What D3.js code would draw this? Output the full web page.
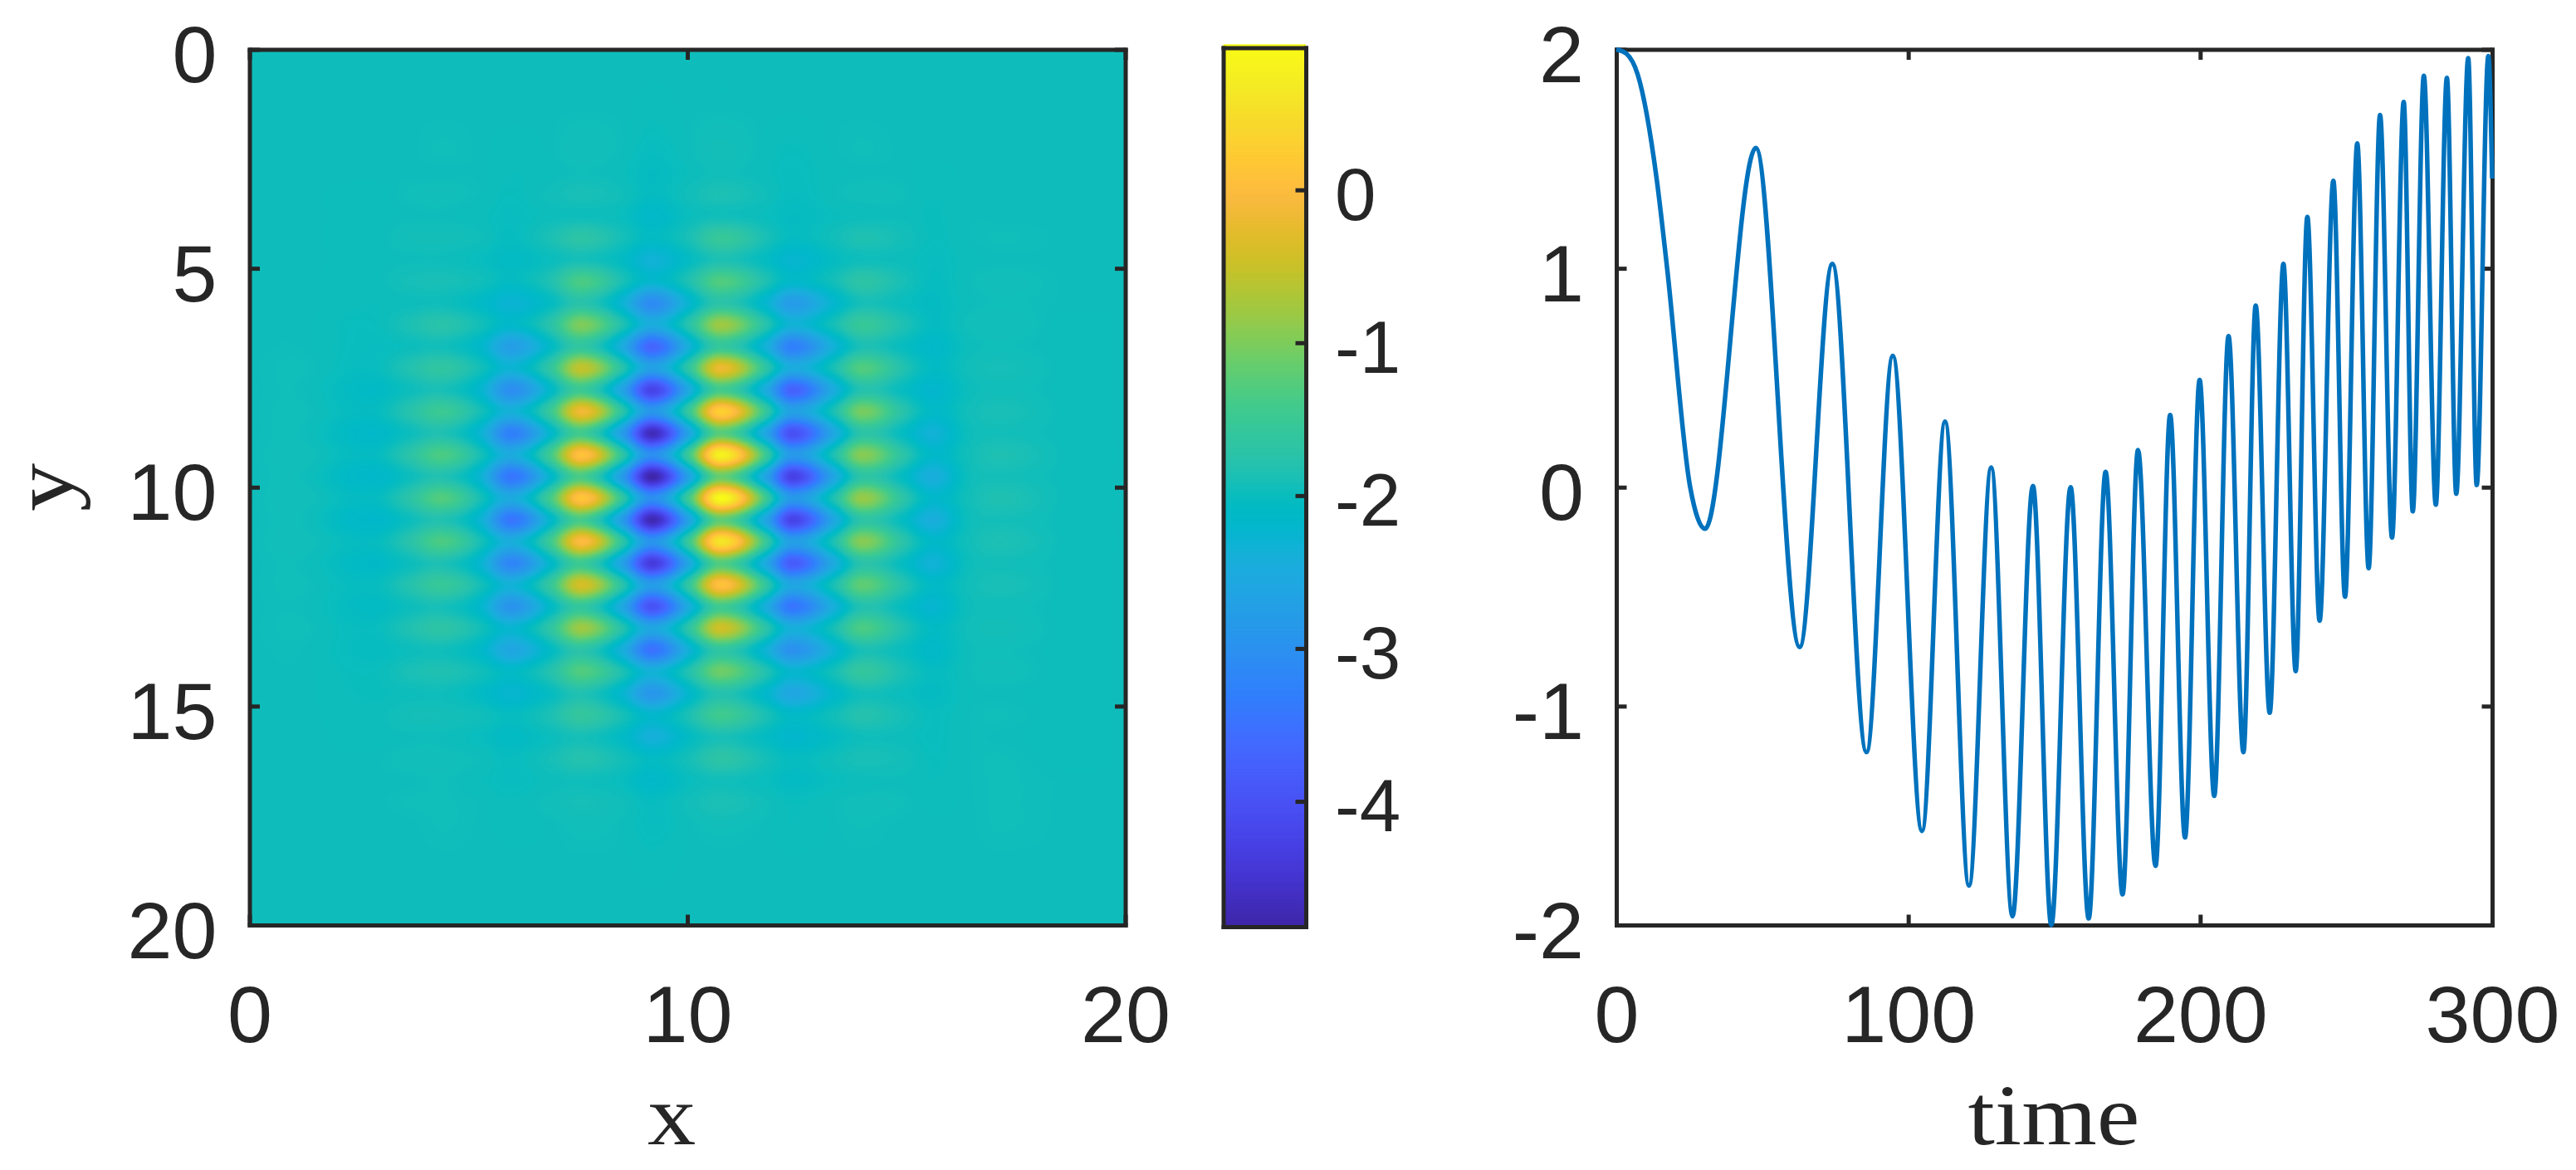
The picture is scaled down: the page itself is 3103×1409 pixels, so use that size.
<!DOCTYPE html>
<html>
<head>
<meta charset="utf-8">
<script src="https://cdn.jsdelivr.net/npm/d3@7"></script>
<style>
  html, body { margin: 0; padding: 0; background: #fff; }
  #wrap { position: relative; width: 3103px; height: 1409px; overflow: hidden; }
  canvas, svg { position: absolute; left: 0; top: 0; }
  text { fill: #262626; }
  .tick-label { font-family: "Liberation Sans", Arial, sans-serif; }
  .axis-label { font-family: "Liberation Serif", serif; }
</style>
</head>
<body>
<div id="wrap"><canvas id="field"></canvas><svg id="chart"></svg></div>
<script>
///////////////////////
// DATA
//
var xTicksField = [0, 10, 20];
var yTicksField = [0, 5, 10, 15, 20];
var cbarTicks = [0, -1, -2, -3, -4];
var cbarRange = [-4.82, 0.93];
var xTicksTime = [0, 100, 200, 300];
var yTicksTime = [-2, -1, 0, 1, 2];

// colormap (parula, 64 steps)
var parula = [
  [0.2422,0.1504,0.6603],[0.2504,0.1650,0.7076],[0.2578,0.1818,0.7511],[0.2647,0.1978,0.7952],
  [0.2706,0.2147,0.8364],[0.2751,0.2342,0.8710],[0.2783,0.2559,0.8991],[0.2803,0.2782,0.9221],
  [0.2813,0.3006,0.9414],[0.2810,0.3228,0.9579],[0.2795,0.3447,0.9717],[0.2760,0.3667,0.9829],
  [0.2699,0.3892,0.9906],[0.2602,0.4123,0.9952],[0.2440,0.4358,0.9988],[0.2206,0.4603,0.9973],
  [0.1963,0.4847,0.9892],[0.1834,0.5074,0.9798],[0.1786,0.5289,0.9682],[0.1764,0.5499,0.9520],
  [0.1687,0.5703,0.9359],[0.1540,0.5902,0.9218],[0.1460,0.6091,0.9079],[0.1380,0.6276,0.8973],
  [0.1248,0.6459,0.8883],[0.1113,0.6635,0.8763],[0.0952,0.6798,0.8598],[0.0689,0.6948,0.8394],
  [0.0297,0.7082,0.8163],[0.0036,0.7203,0.7917],[0.0067,0.7312,0.7660],[0.0433,0.7411,0.7394],
  [0.0964,0.7500,0.7120],[0.1408,0.7584,0.6842],[0.1717,0.7670,0.6554],[0.1938,0.7758,0.6251],
  [0.2161,0.7843,0.5923],[0.2470,0.7918,0.5567],[0.2906,0.7973,0.5188],[0.3406,0.8008,0.4789],
  [0.3909,0.8029,0.4354],[0.4456,0.8024,0.3909],[0.5044,0.7993,0.3480],[0.5616,0.7942,0.3045],
  [0.6174,0.7876,0.2612],[0.6720,0.7793,0.2227],[0.7242,0.7698,0.1910],[0.7738,0.7598,0.1646],
  [0.8203,0.7498,0.1535],[0.8634,0.7406,0.1596],[0.9035,0.7330,0.1774],[0.9393,0.7288,0.2100],
  [0.9728,0.7298,0.2394],[0.9956,0.7434,0.2371],[0.9970,0.7659,0.2199],[0.9952,0.7893,0.2028],
  [0.9892,0.8136,0.1885],[0.9786,0.8386,0.1766],[0.9676,0.8639,0.1643],[0.9610,0.8890,0.1537],
  [0.9597,0.9135,0.1423],[0.9628,0.9373,0.1265],[0.9691,0.9606,0.1064],[0.9769,0.9839,0.0805]
];

// field values, one row per fieldY, one column per fieldX
var fieldX = [0, 1.3, 2.85, 3.63, 4.42, 5.3, 6, 6.88, 7.6, 8.53, 9.2, 10.05, 10.77, 11.8, 12.4, 13.35, 13.99, 14.9, 15.6, 16.37, 17.15, 18.7, 20];
var fieldY = [0, 1.3, 2.33, 2.83, 3.32, 3.82, 4.31, 4.81, 5.3, 5.8, 6.29, 6.79, 7.28, 7.78, 8.27, 8.77,
  9.26, 9.76, 10.25, 10.75, 11.24, 11.74, 12.23, 12.73, 13.22, 13.72, 14.21, 14.71, 15.2, 15.7, 16.19, 16.69,
  17.18, 17.68, 18.6, 20];
var fieldZ = [
  [-1.97,-1.97,-1.97,-1.97,-1.97,-1.97,-1.97,-1.97,-1.97,-1.97,-1.97,-1.97,-1.97,-1.97,-1.97,-1.97,-1.97,-1.97,-1.97,-1.97,-1.97,-1.97,-1.97],
  [-1.97,-1.97,-1.97,-1.97,-1.97,-1.97,-1.97,-1.97,-1.97,-1.97,-1.98,-1.97,-1.97,-1.97,-1.97,-1.97,-1.97,-1.97,-1.97,-1.97,-1.97,-1.97,-1.97],
  [-1.97,-1.97,-1.97,-1.97,-1.96,-1.97,-1.98,-1.97,-1.94,-1.97,-2.02,-1.97,-1.93,-1.98,-2.0,-1.97,-1.96,-1.97,-1.97,-1.97,-1.97,-1.97,-1.97],
  [-1.97,-1.97,-1.97,-1.97,-1.97,-1.97,-1.99,-1.98,-1.96,-1.99,-2.05,-1.99,-1.95,-1.99,-2.01,-1.98,-1.97,-1.97,-1.98,-1.97,-1.97,-1.97,-1.97],
  [-1.97,-1.97,-1.98,-1.96,-1.95,-1.97,-2.0,-1.95,-1.9,-1.96,-2.05,-1.95,-1.87,-1.96,-2.02,-1.97,-1.95,-1.96,-1.99,-1.97,-1.97,-1.97,-1.97],
  [-1.97,-1.97,-1.98,-1.97,-1.97,-1.99,-2.02,-1.98,-1.97,-2.01,-2.15,-2.0,-1.95,-2.0,-2.05,-2.0,-1.98,-1.97,-2.0,-1.97,-1.97,-1.97,-1.97],
  [-1.97,-1.97,-1.98,-1.94,-1.93,-1.96,-2.03,-1.88,-1.7,-1.93,-2.08,-1.89,-1.55,-1.9,-2.05,-1.95,-1.85,-1.93,-2.0,-1.97,-1.96,-1.97,-1.97],
  [-1.97,-1.97,-1.98,-1.97,-1.97,-2.02,-2.08,-2.0,-1.92,-2.08,-2.35,-2.06,-1.86,-2.06,-2.25,-2.05,-1.97,-1.98,-2.02,-1.98,-1.97,-1.97,-1.97],
  [-1.97,-1.97,-1.98,-1.92,-1.9,-1.96,-2.06,-1.84,-1.35,-1.9,-2.22,-1.84,-1.3,-1.86,-2.16,-1.94,-1.7,-1.9,-2.03,-1.97,-1.95,-1.97,-1.97],
  [-1.97,-1.97,-1.99,-1.98,-1.97,-2.11,-2.3,-2.06,-1.75,-2.31,-3.1,-2.23,-1.72,-2.24,-2.8,-2.22,-1.92,-2.0,-2.06,-1.98,-1.96,-1.97,-1.97],
  [-1.97,-1.97,-2.0,-1.88,-1.75,-1.95,-2.16,-1.74,-1.0,-1.85,-2.48,-1.75,-0.8,-1.78,-2.35,-1.92,-1.55,-1.85,-2.05,-1.96,-1.94,-1.98,-1.97],
  [-1.97,-1.97,-2.02,-1.99,-1.95,-2.19,-2.75,-2.11,-1.63,-2.5,-3.7,-2.37,-1.58,-2.38,-3.3,-2.35,-1.88,-2.02,-2.15,-1.99,-1.96,-1.98,-1.97],
  [-1.97,-1.96,-2.02,-1.83,-1.65,-1.95,-2.3,-1.63,-0.55,-1.79,-2.7,-1.64,-0.2,-1.69,-2.5,-1.9,-1.3,-1.8,-2.08,-1.96,-1.92,-1.98,-1.97],
  [-1.97,-1.97,-2.1,-1.99,-1.9,-2.25,-3.05,-2.15,-1.5,-2.67,-4.25,-2.5,-1.42,-2.51,-3.75,-2.47,-1.8,-2.03,-2.22,-2.0,-1.95,-1.98,-1.97],
  [-1.97,-1.96,-2.04,-1.79,-1.5,-1.94,-2.38,-1.53,-0.15,-1.74,-2.9,-1.54,0.3,-1.6,-2.7,-1.88,-1.05,-1.74,-2.12,-1.96,-1.9,-1.98,-1.97],
  [-1.97,-1.97,-2.15,-2.0,-1.85,-2.31,-3.3,-2.19,-1.45,-2.81,-4.7,-2.61,-1.25,-2.62,-4.05,-2.57,-1.72,-2.05,-2.35,-2.0,-1.94,-1.98,-1.97],
  [-1.97,-1.95,-2.05,-1.75,-1.35,-1.93,-2.5,-1.43,0.1,-1.69,-3.05,-1.45,0.8,-1.52,-2.85,-1.86,-0.95,-1.69,-2.16,-1.96,-1.86,-1.98,-1.97],
  [-1.97,-1.97,-2.18,-2.0,-1.83,-2.33,-3.45,-2.2,-1.38,-2.85,-4.82,-2.64,-1.15,-2.65,-4.3,-2.6,-1.7,-2.05,-2.45,-2.0,-1.93,-1.98,-1.97],
  [-1.97,-1.95,-2.05,-1.74,-1.3,-1.93,-2.52,-1.4,0.15,-1.67,-3.05,-1.42,0.93,-1.5,-2.85,-1.85,-0.85,-1.68,-2.17,-1.96,-1.85,-1.98,-1.97],
  [-1.97,-1.97,-2.18,-2.0,-1.83,-2.32,-3.45,-2.19,-1.4,-2.82,-4.75,-2.62,-1.2,-2.63,-4.25,-2.58,-1.7,-2.05,-2.45,-2.0,-1.93,-1.98,-1.97],
  [-1.97,-1.95,-2.04,-1.77,-1.35,-1.93,-2.45,-1.47,0.0,-1.71,-2.95,-1.49,0.6,-1.56,-2.75,-1.86,-0.95,-1.71,-2.15,-1.96,-1.87,-1.98,-1.97],
  [-1.97,-1.97,-2.12,-2.0,-1.87,-2.28,-3.2,-2.17,-1.5,-2.72,-4.4,-2.54,-1.3,-2.55,-3.85,-2.51,-1.75,-2.04,-2.35,-2.0,-1.94,-1.98,-1.97],
  [-1.97,-1.96,-2.03,-1.81,-1.55,-1.94,-2.35,-1.57,-0.4,-1.76,-2.8,-1.59,0.1,-1.64,-2.6,-1.89,-1.2,-1.77,-2.11,-1.96,-1.9,-1.98,-1.97],
  [-1.97,-1.97,-2.08,-1.99,-1.92,-2.22,-2.95,-2.13,-1.6,-2.59,-4.0,-2.44,-1.45,-2.45,-3.45,-2.41,-1.82,-2.03,-2.25,-1.99,-1.95,-1.98,-1.97],
  [-1.97,-1.96,-2.02,-1.85,-1.7,-1.95,-2.25,-1.67,-0.8,-1.81,-2.6,-1.68,-0.45,-1.73,-2.42,-1.91,-1.35,-1.82,-2.08,-1.96,-1.93,-1.98,-1.97],
  [-1.97,-1.97,-2.04,-1.99,-1.96,-2.16,-2.6,-2.09,-1.72,-2.44,-3.5,-2.33,-1.65,-2.33,-3.0,-2.3,-1.9,-2.01,-2.14,-1.98,-1.96,-1.98,-1.97],
  [-1.97,-1.97,-2.0,-1.9,-1.85,-1.96,-2.11,-1.8,-1.3,-1.88,-2.36,-1.81,-1.1,-1.83,-2.24,-1.93,-1.6,-1.88,-2.04,-1.97,-1.95,-1.98,-1.97],
  [-1.97,-1.97,-2.0,-1.98,-1.97,-2.09,-2.25,-2.04,-1.84,-2.25,-2.9,-2.18,-1.8,-2.19,-2.6,-2.17,-1.95,-2.0,-2.06,-1.98,-1.97,-1.98,-1.97],
  [-1.97,-1.97,-1.98,-1.93,-1.93,-1.96,-2.04,-1.87,-1.6,-1.92,-2.2,-1.87,-1.45,-1.89,-2.12,-1.95,-1.8,-1.92,-2.01,-1.97,-1.96,-1.98,-1.97],
  [-1.97,-1.97,-1.98,-1.97,-1.97,-2.02,-2.08,-2.0,-1.92,-2.1,-2.4,-2.07,-1.9,-2.07,-2.2,-2.06,-1.97,-1.98,-2.01,-1.97,-1.97,-1.98,-1.97],
  [-1.97,-1.97,-1.97,-1.95,-1.95,-1.97,-2.02,-1.92,-1.8,-1.94,-2.08,-1.92,-1.7,-1.93,-2.04,-1.96,-1.9,-1.94,-2.0,-1.97,-1.96,-1.98,-1.97],
  [-1.97,-1.97,-1.97,-1.97,-1.96,-1.99,-2.02,-1.98,-1.96,-2.02,-2.15,-2.01,-1.95,-2.01,-2.07,-2.01,-1.98,-1.97,-1.99,-1.97,-1.96,-1.97,-1.97],
  [-1.97,-1.97,-1.97,-1.96,-1.96,-1.97,-1.99,-1.95,-1.92,-1.96,-2.03,-1.95,-1.88,-1.96,-2.0,-1.97,-1.95,-1.96,-1.98,-1.97,-1.96,-1.97,-1.97],
  [-1.97,-1.97,-1.97,-1.97,-1.96,-1.97,-1.98,-1.97,-1.95,-1.97,-2.02,-1.97,-1.95,-1.97,-1.99,-1.97,-1.96,-1.97,-1.97,-1.97,-1.96,-1.97,-1.97],
  [-1.97,-1.97,-1.97,-1.97,-1.97,-1.97,-1.97,-1.97,-1.97,-1.97,-1.98,-1.97,-1.97,-1.97,-1.97,-1.97,-1.97,-1.97,-1.97,-1.97,-1.97,-1.97,-1.97],
  [-1.97,-1.97,-1.97,-1.97,-1.97,-1.97,-1.97,-1.97,-1.97,-1.97,-1.97,-1.97,-1.97,-1.97,-1.97,-1.97,-1.97,-1.97,-1.97,-1.97,-1.97,-1.97,-1.97]
];

// time series: bends and turning points
var timeT = [0, 3.5, 7.3, 13.8, 17.4, 25.3, 30.4, 47.8, 62.8, 74, 85.7, 94.7, 104.7, 112.6, 120.8, 128.4, 135.7,
  142.7, 149, 155.6, 161.8, 167.6, 173.4, 178.7, 184.7, 189.7, 194.8, 199.8, 204.8, 209.7, 214.8, 219, 223.8,
  228.5, 232.7, 236.7, 240.9, 245.6, 249.6, 253.8, 257.7, 261.6, 265.7, 269.7, 272.8, 276.6, 280.7, 284.5,
  287.7, 291.8, 294.7, 298.7, 300];
var timeV = [2, 1.98, 1.886, 1.41, 1, 0, -0.19, 1.55, -0.73, 1.02, -1.21, 0.6, -1.57, 0.3, -1.82, 0.09, -1.96,
  0.006, -2, 0, -1.97, 0.07, -1.86, 0.17, -1.73, 0.33, -1.6, 0.49, -1.41, 0.69, -1.21, 0.83, -1.03,
  1.02, -0.84, 1.235, -0.61, 1.4, -0.5, 1.57, -0.37, 1.7, -0.23, 1.76, -0.11, 1.88, -0.08, 1.87,
  -0.03, 1.96, 0.01, 1.97, 1.41];

///////////////////////
// DEFS
//
var W = 3103, H = 1409,
  ink = '#262626',
  frameTop = 59.5, frameBottom = 1114,
  fieldLeft = 300.5, fieldRight = 1355.5,
  timeLeft = 1947, timeRight = 3002,
  cbarLeft = 1473.5, cbarRight = 1573,
  cbarTop = 57.5, cbarBottom = 1116,
  tickLen = 12.5;

var xField = d3.scaleLinear().domain([0, 20]).range([fieldLeft, fieldRight]);
var yField = d3.scaleLinear().domain([0, 20]).range([frameTop, frameBottom]);
var yCbar = d3.scaleLinear().domain(cbarRange).range([cbarBottom, cbarTop]);
var xTime = d3.scaleLinear().domain([0, 300]).range([timeLeft, timeRight]);
var yTime = d3.scaleLinear().domain([-2, 2]).range([frameBottom, frameTop]);

var colorScale = d3.scaleLinear()
  .domain(parula.map(function (c, i) { return cbarRange[0] + (cbarRange[1] - cbarRange[0]) * i / (parula.length - 1); }))
  .range(parula.map(function (c) { return d3.rgb(c[0] * 255, c[1] * 255, c[2] * 255); }))
  .clamp(true);

var svg = d3.select('#chart').attr('width', W).attr('height', H);

///////////////////////
// FIELD (smooth shading of the grid, pixel by pixel)
//
function segment(xs, x) {
  var i = d3.bisectRight(xs, x) - 1;
  return Math.max(0, Math.min(xs.length - 2, i));
}

function hermite(xs, zs, i, x) {
  var h = xs[i + 1] - xs[i],
    u = (x - xs[i]) / h,
    im = Math.max(0, i - 1),
    ip = Math.min(xs.length - 1, i + 2),
    m0 = (zs[i + 1] - zs[im]) / (xs[i + 1] - xs[im]),
    m1 = (zs[ip] - zs[i]) / (xs[ip] - xs[i]),
    u2 = u * u, u3 = u2 * u;
  return (2 * u3 - 3 * u2 + 1) * zs[i] + (u3 - 2 * u2 + u) * h * m0 + (3 * u2 - 2 * u3) * zs[i + 1] + (u3 - u2) * h * m1;
}

function drawField() {
  var x0 = Math.round(fieldLeft), y0 = Math.round(frameTop),
    pw = Math.round(fieldRight) - x0, ph = Math.round(frameBottom) - y0,
    canvas = document.getElementById('field');
  canvas.width = W;
  canvas.height = H;
  var ctx = canvas.getContext('2d'),
    img = ctx.createImageData(pw, ph);

  // lookup so the colour scale isn't called a million times
  var lutN = 1024,
    lut = d3.range(lutN).map(function (i) {
      return d3.rgb(colorScale(cbarRange[0] + (cbarRange[1] - cbarRange[0]) * i / (lutN - 1)));
    });

  var rowSeg = d3.range(ph).map(function (py) {
    var y = yField.invert(y0 + py + 0.5);
    return { y: y, i: segment(fieldY, y) };
  });

  for (var px = 0; px < pw; px++) {
    var x = xField.invert(x0 + px + 0.5),
      ix = segment(fieldX, x),
      col = fieldZ.map(function (row) { return hermite(fieldX, row, ix, x); });
    for (var py = 0; py < ph; py++) {
      var z = hermite(fieldY, col, rowSeg[py].i, rowSeg[py].y),
        k = Math.round((z - cbarRange[0]) / (cbarRange[1] - cbarRange[0]) * (lutN - 1)),
        c = lut[Math.max(0, Math.min(lutN - 1, k))],
        o = (py * pw + px) * 4;
      img.data[o] = c.r;
      img.data[o + 1] = c.g;
      img.data[o + 2] = c.b;
      img.data[o + 3] = 255;
    }
  }
  ctx.putImageData(img, x0, y0);
}
drawField();

///////////////////////
// COLORBAR
//
var cbarSteps = d3.range(256).map(function (i) {
  return cbarRange[0] + (cbarRange[1] - cbarRange[0]) * i / 255;
});
svg.append('g').selectAll('rect')
  .data(cbarSteps)
  .enter().append('rect')
  .attr('x', cbarLeft)
  .attr('width', cbarRight - cbarLeft)
  .attr('y', function (d) { return yCbar(d) - (cbarBottom - cbarTop) / 255; })
  .attr('height', (cbarBottom - cbarTop) / 255 + 1)
  .attr('fill', function (d) { return colorScale(d); });

///////////////////////
// AXES
//
function styleAxis(g) {
  g.selectAll('path.domain').attr('stroke', ink).attr('stroke-width', 5).attr('stroke-linecap', 'square').attr('fill', 'none');
  g.selectAll('.tick line').attr('stroke', ink).attr('stroke-width', 5);
  g.attr('font-family', null).attr('font-size', null);
  return g;
}

function box(xs, ys, xTicks, yTicks) {
  var l = xs.range()[0], r = xs.range()[1], t = ys.range()[0], b = ys.range()[1];
  if (t > b) { var tmp = t; t = b; b = tmp; }

  var g = svg.append('g');
  var noLabel = function () { return ''; };
  var tick = function (d) { return String(d); };

  var bottomAxis = g.append('g').attr('transform', 'translate(0,' + b + ')')
    .call(d3.axisBottom(xs).tickValues(xTicks).tickSizeInner(-tickLen).tickSizeOuter(0).tickFormat(tick)).call(styleAxis);
  g.append('g').attr('transform', 'translate(0,' + t + ')')
    .call(d3.axisTop(xs).tickValues(xTicks).tickSizeInner(-tickLen).tickSizeOuter(0).tickFormat(noLabel)).call(styleAxis);
  var leftAxis = g.append('g').attr('transform', 'translate(' + l + ',0)')
    .call(d3.axisLeft(ys).tickValues(yTicks).tickSizeInner(-tickLen).tickSizeOuter(0).tickFormat(tick)).call(styleAxis);
  g.append('g').attr('transform', 'translate(' + r + ',0)')
    .call(d3.axisRight(ys).tickValues(yTicks).tickSizeInner(-tickLen).tickSizeOuter(0).tickFormat(noLabel)).call(styleAxis);

  bottomAxis.selectAll('text')
    .attr('class', 'tick-label').attr('font-size', 97)
    .attr('y', 140.5).attr('dy', 0);
  leftAxis.selectAll('text')
    .attr('class', 'tick-label').attr('font-size', 97)
    .attr('x', -39).attr('dy', 39).attr('text-anchor', 'end');
}

box(xField, yField, xTicksField, yTicksField);

// colorbar frame, ticks only on the right side
var cbarG = svg.append('g');
var xCbar = d3.scaleLinear().domain([0, 1]).range([cbarLeft, cbarRight]);
cbarG.append('g').attr('transform', 'translate(0,' + cbarTop + ')')
  .call(d3.axisTop(xCbar).tickValues([]).tickSizeOuter(0)).call(styleAxis);
cbarG.append('g').attr('transform', 'translate(0,' + cbarBottom + ')')
  .call(d3.axisBottom(xCbar).tickValues([]).tickSizeOuter(0)).call(styleAxis);
cbarG.append('g').attr('transform', 'translate(' + cbarLeft + ',0)')
  .call(d3.axisLeft(yCbar).tickValues([]).tickSizeOuter(0)).call(styleAxis);
cbarG.append('g').attr('transform', 'translate(' + cbarRight + ',0)')
  .call(d3.axisRight(yCbar).tickValues(cbarTicks).tickSizeInner(-tickLen).tickSizeOuter(0).tickFormat(function (d) { return String(d); }))
  .call(styleAxis)
  .selectAll('text')
  .attr('class', 'tick-label').attr('font-size', 89)
  .attr('x', 35).attr('dy', 35.5).attr('text-anchor', 'start');

box(xTime, yTime, xTicksTime, yTicksTime);

///////////////////////
// TIME SERIES
//
var lineData = timeT.map(function (t, i) { return { t: t, v: timeV[i] }; });
var line = d3.line()
  .x(function (d) { return xTime(d.t); })
  .y(function (d) { return yTime(d.v); })
  .curve(d3.curveMonotoneX);

svg.append('path')
  .datum(lineData)
  .attr('d', line)
  .attr('fill', 'none')
  .attr('stroke', '#0072BD')
  .attr('stroke-width', 5.5)
  .attr('stroke-linejoin', 'round');

///////////////////////
// AXIS LABELS (stretched a bit, the serif here is narrower than the original one)
//
svg.append('text').attr('class', 'axis-label')
  .attr('transform', 'translate(809,1378) scale(1.12,1)').attr('text-anchor', 'middle').attr('font-size', 104)
  .text('x');
svg.append('text').attr('class', 'axis-label')
  .attr('transform', 'translate(87,587) rotate(-90) scale(1.12,1)').attr('text-anchor', 'middle').attr('font-size', 104)
  .text('y');
svg.append('text').attr('class', 'axis-label')
  .attr('transform', 'translate(2474,1378) scale(1.12,1)').attr('text-anchor', 'middle').attr('font-size', 104)
  .text('time');
</script>
</body>
</html>
